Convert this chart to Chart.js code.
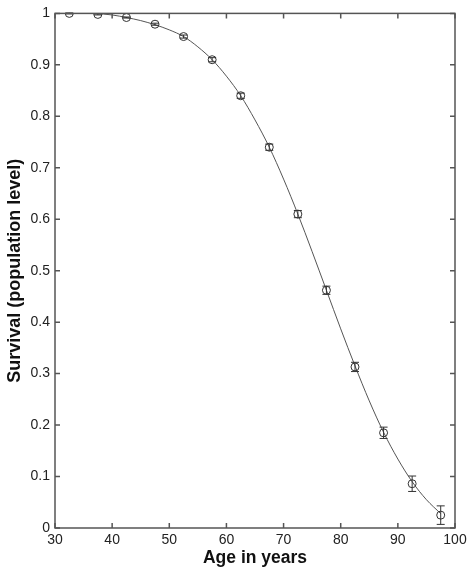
<!DOCTYPE html>
<html>
<head>
<meta charset="utf-8">
<script src="https://cdn.jsdelivr.net/npm/chart.js@4.4.1/dist/chart.umd.min.js"></script>
<style>
  html, body { margin: 0; padding: 0; background: #fff; }
  #wrap { width: 474px; height: 575px; }
</style>
</head>
<body>
<div id="wrap"><canvas id="surv"></canvas></div>
<script>
// observed survival by age band (midpoints) with error half-widths
const ages = [32.5, 37.5, 42.5, 47.5, 52.5, 57.5, 62.5, 67.5, 72.5, 77.5, 82.5, 87.5, 92.5, 97.5];
const survival = [1.0, 0.998, 0.992, 0.979, 0.955, 0.910, 0.840, 0.740, 0.610, 0.462, 0.313, 0.185, 0.086, 0.025];
const survErr = [0.001, 0.001, 0.001, 0.002, 0.003, 0.004, 0.005, 0.006, 0.007, 0.008, 0.009, 0.011, 0.015, 0.018];

// fitted curve
const fitAges = [37, 40, 42.5, 45, 47.5, 50, 52.5, 55, 57.5, 60, 62.5, 65, 67.5, 70, 72.5, 75, 77.5, 80, 82.5, 85, 87.5, 90, 92.5, 95, 97.5];
const fitSurv = [1.0, 0.997, 0.992, 0.986, 0.978, 0.968, 0.955, 0.935, 0.910, 0.878, 0.840, 0.793, 0.740, 0.678, 0.610, 0.537, 0.462, 0.387, 0.315, 0.247, 0.186, 0.134, 0.090, 0.055, 0.028];

const xTicks = [30, 40, 50, 60, 70, 80, 90, 100];
const yTicks = [0, 0.1, 0.2, 0.3, 0.4, 0.5, 0.6, 0.7, 0.8, 0.9, 1];

const axisColor = '#555';
const inkColor = '#333';

// error bars with caps
const errorBars = {
  id: 'errorBars',
  afterDatasetsDraw(chart) {
    const { ctx, scales: { x, y } } = chart;
    ctx.save();
    ctx.strokeStyle = inkColor;
    ctx.lineWidth = 1;
    ages.forEach((a, i) => {
      const px = x.getPixelForValue(a);
      const top = y.getPixelForValue(survival[i] + survErr[i]);
      const bot = y.getPixelForValue(survival[i] - survErr[i]);
      ctx.beginPath();
      ctx.moveTo(px, top); ctx.lineTo(px, bot);
      ctx.moveTo(px - 4, top); ctx.lineTo(px + 4, top);
      ctx.moveTo(px - 4, bot); ctx.lineTo(px + 4, bot);
      ctx.stroke();
    });
    ctx.restore();
  }
};

// box around plot with inward ticks on all sides
const boxTicks = {
  id: 'boxTicks',
  afterDraw(chart) {
    const { ctx, chartArea: a, scales: { x, y } } = chart;
    const len = 5;
    ctx.save();
    ctx.strokeStyle = axisColor;
    ctx.lineWidth = 1.5;
    ctx.strokeRect(a.left, a.top, a.right - a.left, a.bottom - a.top);
    ctx.beginPath();
    xTicks.forEach(v => {
      const px = x.getPixelForValue(v);
      ctx.moveTo(px, a.bottom); ctx.lineTo(px, a.bottom - len);
      ctx.moveTo(px, a.top); ctx.lineTo(px, a.top + len);
    });
    yTicks.forEach(v => {
      const py = y.getPixelForValue(v);
      ctx.moveTo(a.left, py); ctx.lineTo(a.left + len, py);
      ctx.moveTo(a.right, py); ctx.lineTo(a.right - len, py);
    });
    ctx.stroke();
    ctx.restore();
  }
};

const survCtx = document.getElementById('surv');
window.survChart = new Chart(survCtx, {
  type: 'scatter',
  data: {
    datasets: [
      {
        label: 'Fitted',
        data: fitAges.map((a, i) => ({ x: a, y: fitSurv[i] })),
        showLine: true,
        borderColor: '#555',
        borderWidth: 1,
        pointRadius: 0,
        cubicInterpolationMode: 'monotone',
        order: 2,
      },
      {
        label: 'Observed',
        data: ages.map((a, i) => ({ x: a, y: survival[i] })),
        showLine: false,
        pointStyle: 'circle',
        pointRadius: 4,
        backgroundColor: 'rgba(0,0,0,0)',
        borderColor: inkColor,
        borderWidth: 1,
        order: 1,
      },
    ],
  },
  options: {
    responsive: true,
    maintainAspectRatio: false,
    animation: false,
    layout: { padding: { top: 13, right: 19, left: 0, bottom: 0 } },
    plugins: {
      legend: { display: false },
      tooltip: { enabled: false },
    },
    scales: {
      x: {
        type: 'linear',
        min: 30,
        max: 100,
        afterBuildTicks: s => { s.ticks = xTicks.map(v => ({ value: v })); },
        afterFit: s => { s.height = 47; },
        grid: { display: false, drawTicks: false },
        border: { display: false },
        ticks: {
          color: '#222',
          padding: 4,
          font: { family: 'Liberation Sans, Arial', size: 14 },
        },
        title: {
          display: true,
          text: 'Age in years',
          color: '#111',
          padding: { top: 0, bottom: 6 },
          font: { family: 'Liberation Sans, Arial', size: 17.5, weight: 'bold' },
        },
      },
      y: {
        type: 'linear',
        min: 0,
        max: 1,
        afterBuildTicks: s => { s.ticks = yTicks.map(v => ({ value: v })); },
        afterFit: s => { s.width = 55; },
        grid: { display: false, drawTicks: false },
        border: { display: false },
        ticks: {
          color: '#222',
          padding: 5,
          font: { family: 'Liberation Sans, Arial', size: 14 },
          callback: v => String(v),
        },
        title: {
          display: true,
          text: 'Survival (population level)',
          color: '#111',
          padding: { top: 4, bottom: 0 },
          font: { family: 'Liberation Sans, Arial', size: 18, weight: 'bold' },
        },
      },
    },
  },
  plugins: [errorBars, boxTicks],
});
</script>
</body>
</html>
